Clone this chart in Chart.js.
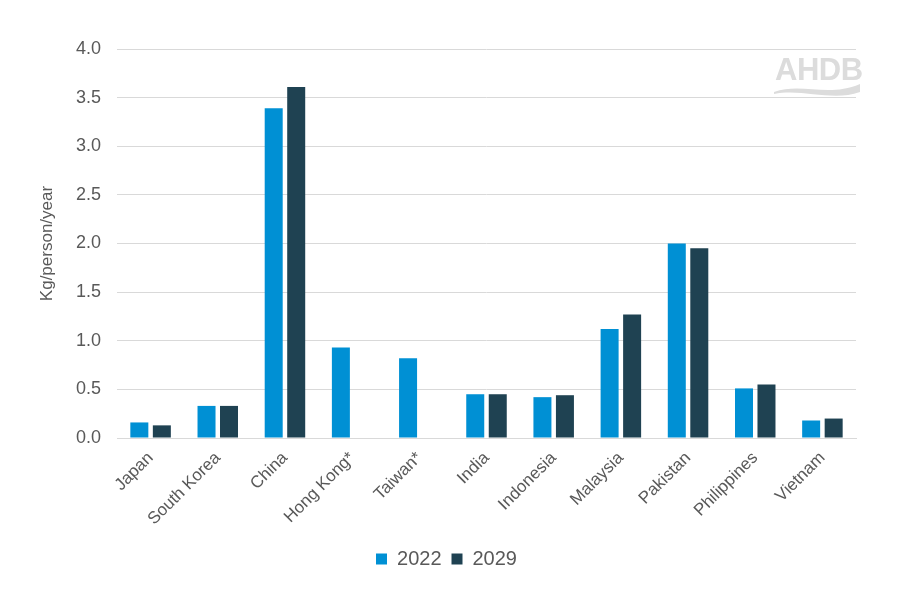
<!DOCTYPE html>
<html>
<head>
<meta charset="utf-8">
<script src="https://cdn.jsdelivr.net/npm/chart.js@4"></script>
<style>
  body { margin: 0; background: #fff; }
  #wrap { position: relative; width: 916px; height: 613px; }
  #logo { position: absolute; left: 772px; top: 52px; width: 92px; height: 48px; }
  #logo span { position: absolute; left: 3px; top: 0; font: bold 31px "Liberation Sans", Arial, sans-serif; color: #dcdcdc; letter-spacing: -0.5px; }
  #logo svg { position: absolute; left: 0; top: 26px; }
</style>
</head>
<body>
<div id="wrap">
  <canvas id="chart" width="916" height="613"></canvas>
  <div id="logo">
    <span>AHDB</span>
    <svg width="92" height="22" viewBox="0 0 92 22">
      <path d="M2 14 C 30 4, 55 20, 88 6 L 88 14 C 60 24, 30 10, 2 16 Z" fill="#dcdcdc"/>
    </svg>
  </div>
</div>
<script>
// ===== DATA =====
const countries = ['Japan', 'South Korea', 'China', 'Hong Kong*', 'Taiwan*', 'India', 'Indonesia', 'Malaysia', 'Pakistan', 'Philippines', 'Vietnam'];
const values2022 = [0.16, 0.33, 3.39, 0.93, 0.82, 0.45, 0.42, 1.12, 2.00, 0.51, 0.18];
const values2029 = [0.13, 0.33, 3.61, null, null, 0.45, 0.44, 1.27, 1.95, 0.55, 0.20];
const yTicks = [0, 0.5, 1, 1.5, 2, 2.5, 3, 3.5, 4];

const grey = '#595959';
const font = 'Arial, "Liberation Sans", sans-serif';

const ctx = document.getElementById('chart').getContext('2d');
new Chart(ctx, {
  type: 'bar',
  data: {
    labels: countries,
    datasets: [
      { label: '2022', data: values2022, backgroundColor: '#0090D4' },
      { label: '2029', data: values2029, backgroundColor: '#1F4252' }
    ]
  },
  options: {
    responsive: false,
    animation: false,
    categoryPercentage: 0.67,
    barPercentage: 0.8,
    layout: { padding: { top: 49, right: 60, left: 37, bottom: 34 } },
    plugins: {
      tooltip: { enabled: false },
      legend: {
        position: 'bottom',
        labels: {
          color: grey,
          font: { family: font, size: 20 },
          boxWidth: 11,
          boxHeight: 11,
          padding: 10
        }
      }
    },
    scales: {
      x: {
        grid: { display: false },
        border: { color: '#d9d9d9' },
        ticks: {
          color: grey,
          font: { family: font, size: 17 },
          minRotation: 45,
          maxRotation: 45,
          padding: 2
        },
        afterFit: s => { s.height = 101; }
      },
      y: {
        min: 0,
        max: 4,
        afterBuildTicks: s => { s.ticks = yTicks.map(v => ({ value: v })); },
        grid: { color: '#d9d9d9', drawTicks: false },
        border: { display: false },
        ticks: {
          color: grey,
          font: { family: font, size: 18 },
          padding: 16,
          callback: v => v.toFixed(1)
        },
        title: {
          display: true,
          text: 'Kg/person/year',
          color: grey,
          font: { family: font, size: 17 },
          padding: { top: 0, bottom: 4 }
        },
        afterFit: s => { s.width = 80; }
      }
    }
  }
});
</script>
</body>
</html>
